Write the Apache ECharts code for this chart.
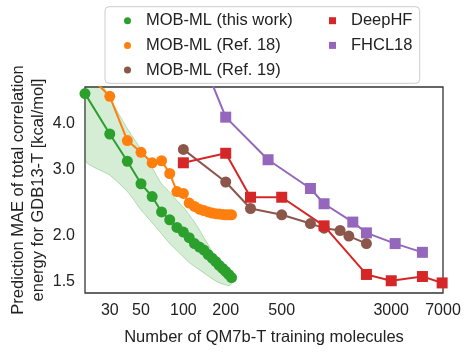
<!DOCTYPE html>
<html>
<head>
<meta charset="utf-8">
<script src="https://cdn.jsdelivr.net/npm/echarts@6.0.0/dist/echarts.min.js"></script>
<style>
  html, body { margin: 0; padding: 0; background: #fff; }
  #chart { width: 474px; height: 353px; }
</style>
</head>
<body>
<div id="chart"></div>
<script>
var myChart = echarts.init(document.getElementById('chart'));

// MOB-ML (this work) + its spread band
var greenX = [20, 30, 40, 50, 60, 70, 80, 90, 100, 110, 120, 130, 140, 150, 160, 170, 180, 190, 200, 210, 220];
var greenY = [4.80, 3.74, 3.16, 2.75, 2.54, 2.31, 2.20, 2.10, 2.04, 1.97, 1.90, 1.86, 1.825, 1.775, 1.736, 1.70, 1.66, 1.63, 1.60, 1.57, 1.54];
var bandLow = [3.18, 2.90, 2.62, 2.34, 2.16, 2.02, 1.90, 1.82, 1.75, 1.69, 1.65, 1.615, 1.585, 1.556, 1.53, 1.507, 1.49, 1.48, 1.47, 1.465, 1.48];
var bandHigh = [6.0, 4.66, 3.87, 3.40, 3.04, 2.75, 2.61, 2.48, 2.38, 2.27, 2.17, 2.07, 1.97, 1.89, 1.81, 1.76, 1.71, 1.665, 1.625, 1.585, 1.56];

// MOB-ML (Ref. 18)
var orangeX = [20, 30, 40, 50, 60, 70, 80, 90, 100, 110, 120, 130, 140, 150, 160, 170, 180, 190, 200, 210, 220];
var orangeY = [5.5, 4.72, 3.59, 3.34, 3.13, 3.17, 2.93, 2.62, 2.59, 2.44, 2.39, 2.35, 2.33, 2.31, 2.295, 2.285, 2.28, 2.275, 2.27, 2.27, 2.27];

// MOB-ML (Ref. 19)
var brownX = [100, 200, 300, 500, 800, 1000, 1300, 1500, 2000];
var brownY = [3.40, 2.78, 2.36, 2.27, 2.15, 2.09, 2.06, 1.99, 1.90];

// DeepHF
var redX = [100, 200, 300, 500, 1000, 2000, 3000, 5000, 6900];
var redY = [3.13, 3.32, 2.53, 2.53, 2.12, 1.57, 1.51, 1.55, 1.49];

// FHCL18
var purpleX = [100, 200, 400, 800, 1000, 1600, 2000, 3200, 5000];
var purpleY = [7.9, 4.15, 3.19, 2.67, 2.43, 2.17, 2.03, 1.90, 1.80];

var xTicks = [30, 50, 100, 200, 500, 3000, 7000];
var yTicks = [1.5, 2.0, 3.0, 4.0];

function toLog(xs, ys) {
  return xs.map(function (x, i) { return [Math.log10(x), Math.log10(ys[i])]; });
}

var bandData = greenX.map(function (x, i) {
  return [Math.log10(x), Math.log10(bandLow[i]), Math.log10(bandHigh[i])];
});

var font = 'Liberation Sans, Arial, sans-serif';
var textColor = '#222';

function lineSeries(name, color, symbol, xs, ys) {
  return {
    name: name,
    type: 'line',
    data: toLog(xs, ys),
    symbol: symbol,
    symbolSize: 11,
    lineStyle: { color: color, width: 2 },
    itemStyle: { color: color },
    emphasis: { disabled: true }
  };
}

// band polygon: upper edge left->right, lower edge right->left
function renderBand(params, api) {
  if (params.dataIndex !== 0) return null;
  var pts = [];
  for (var i = 0; i < bandData.length; i++) {
    pts.push(api.coord([bandData[i][0], bandData[i][2]]));
  }
  for (var j = bandData.length - 1; j >= 0; j--) {
    pts.push(api.coord([bandData[j][0], bandData[j][1]]));
  }
  return {
    type: 'polygon',
    shape: { points: pts, smooth: 0.2 },
    style: { fill: 'rgba(44,160,44,0.2)', stroke: 'rgba(44,160,44,0.3)', lineWidth: 1 }
  };
}

var option = {
  animation: false,
  backgroundColor: '#fff',
  grid: {
    left: 85, right: 31, top: 87, bottom: 60,
    outerBoundsMode: 'none',
    show: true, borderColor: '#333', borderWidth: 1.3
  },
  legend: [{
    orient: 'vertical',
    left: 105, top: 6.7,
    padding: [5, 127, 4.2, 19],
    itemWidth: 27, itemHeight: 7, itemGap: 6.7,
    backgroundColor: '#fff',
    borderColor: '#ccc', borderWidth: 1, borderRadius: 4,
    textStyle: { fontSize: 16.5, color: textColor, fontFamily: font, lineHeight: 18 },
    data: [
      { name: 'MOB-ML (this work)', icon: 'circle' },
      { name: 'MOB-ML (Ref. 18)', icon: 'circle' },
      { name: 'MOB-ML (Ref. 19)', icon: 'circle' }
    ]
  }, {
    orient: 'vertical',
    left: 329, top: 11.7,
    padding: 0,
    z: 6,
    itemWidth: 27, itemHeight: 7, itemGap: 6.7,
    textStyle: { fontSize: 16.5, color: textColor, fontFamily: font, lineHeight: 18 },
    data: [
      { name: 'DeepHF', icon: 'path://M0,0H10V10H0Z' },
      { name: 'FHCL18', icon: 'path://M0,0H10V10H0Z' }
    ]
  }],
  xAxis: {
    type: 'value',
    min: Math.log10(20),
    max: Math.log10(7000),
    name: 'Number of QM7b-T training molecules',
    nameLocation: 'middle',
    nameGap: 36,
    nameMoveOverlap: false,
    nameTextStyle: { fontSize: 16.5, color: textColor, fontFamily: font },
    axisLine: { show: false },
    axisTick: { show: false },
    splitLine: { show: false },
    axisLabel: {
      customValues: xTicks.map(Math.log10),
      formatter: function (v) { return String(Math.round(Math.pow(10, v))); },
      fontSize: 16, color: textColor, fontFamily: font, margin: 10
    }
  },
  yAxis: {
    type: 'value',
    min: Math.log10(1.4),
    max: Math.log10(5.0),
    name: 'Prediction MAE of total correlation\nenergy for GDB13-T [kcal/mol]',
    nameLocation: 'middle',
    nameGap: 37,
    nameMoveOverlap: false,
    nameTextStyle: { fontSize: 16.5, color: textColor, fontFamily: font, lineHeight: 20, align: 'center' },
    axisLine: { show: false },
    axisTick: { show: false },
    splitLine: { show: false },
    axisLabel: {
      customValues: yTicks.map(Math.log10),
      formatter: function (v) { return Math.pow(10, v).toFixed(1); },
      fontSize: 16, color: textColor, fontFamily: font, margin: 10
    }
  },
  series: [
    {
      name: 'band',
      type: 'custom',
      data: bandData,
      encode: { x: 0, y: [1, 2] },
      renderItem: renderBand,
      clip: true,
      silent: true,
      z: 1
    },
    lineSeries('MOB-ML (this work)', '#2ca02c', 'circle', greenX, greenY),
    lineSeries('MOB-ML (Ref. 18)', '#ff7f0e', 'circle', orangeX, orangeY),
    lineSeries('MOB-ML (Ref. 19)', '#8c564b', 'circle', brownX, brownY),
    lineSeries('DeepHF', '#d62728', 'rect', redX, redY),
    lineSeries('FHCL18', '#9467bd', 'rect', purpleX, purpleY)
  ]
};

myChart.setOption(option);
</script>
</body>
</html>
